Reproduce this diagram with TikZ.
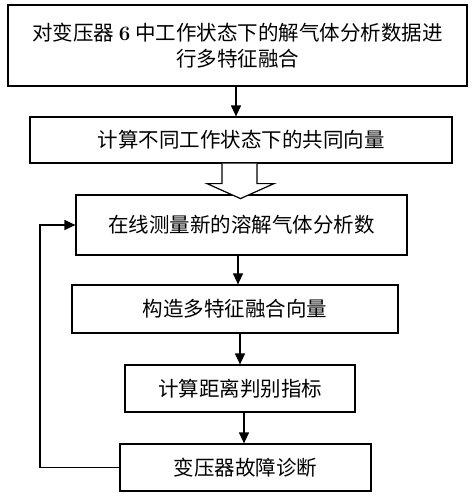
\documentclass[tikz,border=0pt]{standalone}
\usepackage{fontspec}
\newfontfamily\cjk{Noto Sans CJK SC}
\usepackage{tikz}
\usetikzlibrary{arrows.meta,calc}

\begin{document}
\begin{tikzpicture}[x=1pt,y=-1pt,
  box/.style={draw, line width=1.2pt, inner sep=0pt, font=\cjk\fontsize{20.5}{26}\selectfont, align=center},
  arr/.style={line width=1.2pt, -{Triangle[length=11pt,width=10pt]}}]
\useasboundingbox (0,0) rectangle (474,498);
% Flow of steps
\node[box, minimum width=459, minimum height=81] (fuse) at (237.5,45.5) {对变压器 {\normalfont\bfseries 6} 中工作状态下的解气体分析数据进\\行多特征融合};
\node[box, minimum width=422, minimum height=46] (common) at (241,140) {计算不同工作状态下的共同向量};
\node[box, minimum width=331, minimum height=60] (measure) at (241.5,225) {在线测量新的溶解气体分析数};
\node[box, minimum width=326, minimum height=48] (vector) at (235,309) {构造多特征融合向量};
\node[box, minimum width=230, minimum height=47] (index) at (240,388.5) {计算距离判别指标};
\node[box, minimum width=251, minimum height=47] (diag) at (245.5,467.5) {变压器故障诊断};

\draw[arr] ([xshift=-1.5]fuse.south) -- ([xshift=-5]common.north);
% hollow arrow
\draw[line width=1.2pt, fill=white] ([xshift=-19]common.south) -- ++(0,20) -- ++(-15,0) -- ++(33.5,15)
  -- ++(33.5,-15) -- ++(-17,0) -- ++(0,-20);
\draw[arr] ([xshift=-3.5]measure.south) -- ([xshift=3]vector.north);
\draw[arr] ([xshift=5]vector.south) -- (index.north);
\draw[arr] ([xshift=4]index.south) -- ([xshift=-1.5]diag.north);

% feedback loop
\coordinate (lp) at (40,0);
\draw[arr] (diag.west) -- (diag.west -| lp) |- (measure.west);
\end{tikzpicture}
\end{document}
